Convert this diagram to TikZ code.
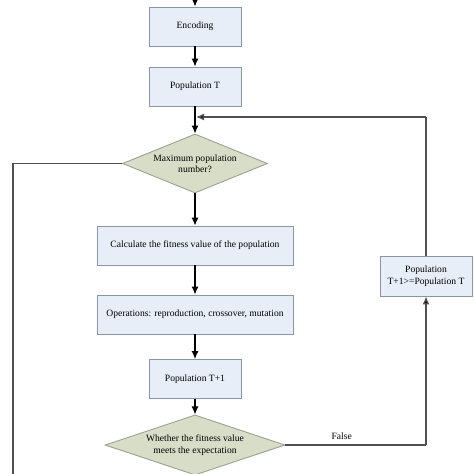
\documentclass[tikz,border=0pt]{standalone}
\usepackage{fontspec}
\setmainfont{Liberation Serif}
\usetikzlibrary{shapes.geometric,arrows.meta}
\definecolor{boxfill}{HTML}{E8EEF8}
\definecolor{boxline}{HTML}{8A96A6}
\definecolor{dfill}{HTML}{D8DDC8}
\definecolor{dline}{HTML}{9CA090}
\definecolor{wire}{HTML}{505050}
\begin{document}
\begin{tikzpicture}[x=1pt,y=-1pt,
  procbox/.style={draw=boxline,fill=boxfill,line width=0.9pt,minimum height=39pt,inner sep=2pt,font=\fontsize{9.6}{11.5}\selectfont,align=center},
  decbox/.style={draw=dline,fill=dfill,line width=0.9pt,diamond,aspect=2.45,inner sep=0pt,font=\fontsize{9.6}{11.5}\selectfont,align=center},
  flow/.style={draw=black,line width=1.1pt,-{Latex[length=8pt,width=7pt]}},
  back/.style={draw=wire,line width=1.3pt}]
\useasboundingbox (0,0) rectangle (474,474);
\clip (0,0) rectangle (474,474);
\fill[white] (0,0) rectangle (474,474);
\coordinate (top) at (195,-5);
\node[procbox,minimum width=92pt] (enc) at (195,26.5) {Encoding};
\node[procbox,minimum width=92pt] (popT) at (195,86.5) {Population T};
\node[decbox,minimum width=145pt,minimum height=59pt] (max) at (195,163.5) {Maximum population\\number?};
\node[procbox,minimum width=196pt] (fit) at (195,245.5) {Calculate the fitness value of the population};
\node[procbox,minimum width=196pt] (ops) at (195,314.5) {Operations: reproduction, crossover, mutation};
\node[procbox,minimum width=92pt] (popT1) at (195,379) {Population T+1};
\node[decbox,minimum width=180pt,minimum height=60pt] (whe) at (195,445) {Whether the fitness value\\meets the expectation};
\node[procbox,minimum width=92pt,minimum height=40pt] (ge) at (426,276) {Population\\T+1>=Population T};
\coordinate (join) at (195,117);
\coordinate (rtop) at (426,117);
\coordinate (rbot) at (426,445);
\coordinate (lcorner) at (13,163.5);
\coordinate (lbot) at (13,480);
\draw[flow] (top) -- (enc);
\draw[flow] (enc) -- (popT);
\draw[flow] (popT) -- (max);
\draw[flow] (max) -- (fit);
\draw[flow] (fit) -- (ops);
\draw[flow] (ops) -- (popT1);
\draw[flow] (popT1) -- (whe);
\draw[back] (max.west) -- (lcorner) -- (lbot);
\draw[back] (whe.east) -- (rbot) node[pos=0.4,above=1pt,text=black,font=\fontsize{9.6}{11.5}\selectfont] (flab) {False};
\draw[back,-{Latex[length=8pt,width=7pt,fill=black]}] (rbot) -- (ge.south);
\draw[back] (ge.north) -- (rtop);
\draw[back,-{Latex[length=8pt,width=7pt,fill=black]}] (rtop) -- ([xshift=1pt]join);
\end{tikzpicture}
\end{document}
